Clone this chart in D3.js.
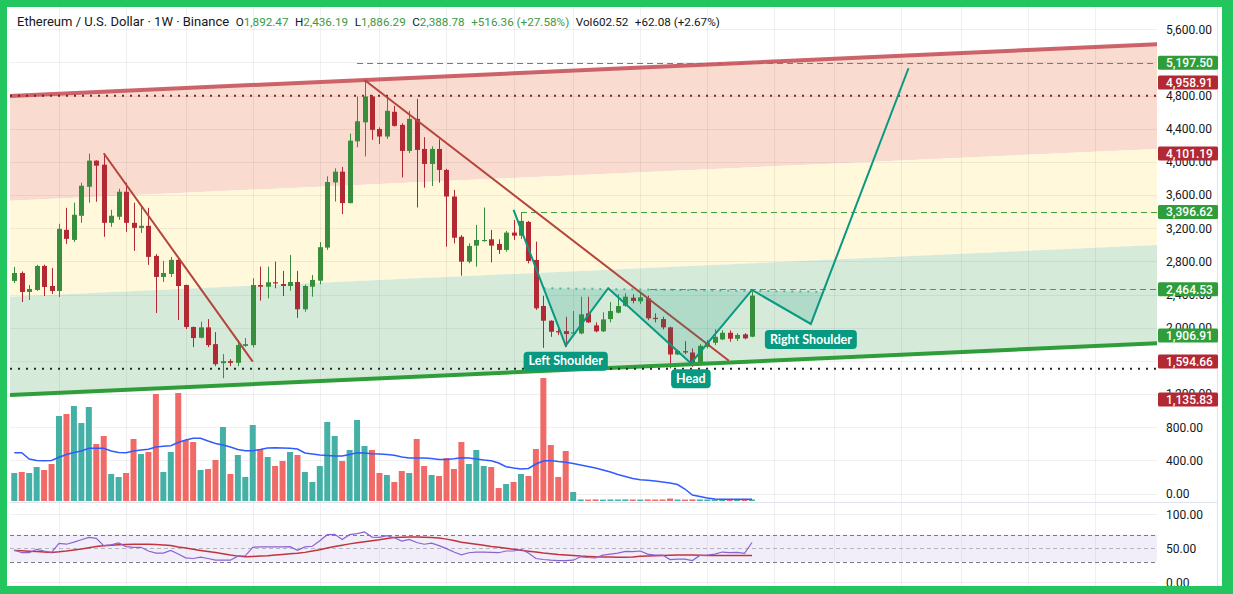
<!DOCTYPE html>
<html>
<head>
<meta charset="utf-8">
<script src="https://d3js.org/d3.v7.min.js"></script>
<style>
  body { margin: 0; background: #fff; }
  svg { display: block; font-family: Roboto, "Noto Sans", sans-serif; }
</style>
</head>
<body>
<div id="chart"></div>
<script>
// Weekly ETH/USD candles (index 0 = first visible week)
const opens = [2565,2661,2432,2456,2746,2504,2444,3181,3060,3351,
  3701,4016,3967,3266,3339,3641,3266,3205,3230,2867,
  2613,2649,2819,2516,2009,1880,2005,1803,1573,1598,
  1577,1782,1791,2516,2496,2549,2528,2504,2552,2223,
  2496,2568,2967,3753,3883,3504,4249,4478,4790,4397,
  4307,4605,4447,4133,4520,4157,3976,4157,3904,3583,
  3098,2797,2991,3049,3067,3011,2939,3148,3111,3277,
  2818,2263,2085,1960,1960,1932,1932,2174,2029,1957,
  2105,2182,2265,2363,2319,2355,2120,2105,2005,1678,
  1718,1702,1569,1770,1819,1860,1940,1868,1921,1892.47];
const highs = [2734,2680,2516,2760,2760,2722,3254,3447,3508,3750,
  4100,4020,4105,3423,3677,3750,3508,3459,3447,2890,
  2807,2855,2830,2520,2015,2073,2105,1948,1682,1622,
  1852,1876,2597,2738,2738,2798,2686,2879,2686,2520,
  2637,3033,3826,3923,3940,4342,4790,4989,4806,4417,
  4790,4677,4467,4617,4762,4299,4187,4274,3917,3663,
  3118,3019,3241,3450,3180,3067,3168,3301,3397,3289,
  3039,2387,2090,2013,2133,2202,2375,2375,2065,2186,
  2310,2404,2416,2404,2416,2387,2174,2133,2013,1738,
  1839,1751,1803,1852,1980,1969,1969,1934,1934,2436.19];
const lows = [2540,2311,2335,2445,2383,2408,2371,3012,3036,3266,
  3508,3520,3097,3218,3302,3157,2927,3145,2758,2178,
  2553,2613,2093,1984,1767,1872,1767,1537,1392,1537,
  1537,1770,1763,2327,2355,2476,2383,2447,2120,2194,
  2375,2524,2940,3523,3371,3500,4177,4067,4267,4217,
  4279,4427,3813,4107,3451,3690,3710,3750,2978,3018,
  2628,2777,2737,3039,2789,2890,2919,3059,3071,2777,
  2216,1758,1891,1912,1770,1930,1920,2060,1945,1950,
  2065,2174,2255,2295,2287,2093,2065,1980,1509,1670,
  1682,1529,1565,1751,1791,1851,1831,1841,1861,1886.29];
const closes = [2661,2432,2468,2746,2492,2444,3193,3072,3363,3713,
  4016,3955,3266,3351,3641,3266,3205,3230,2855,2613,
  2661,2819,2504,2009,1876,2005,1791,1561,1597,1577,
  1791,1803,2516,2496,2549,2537,2504,2552,2223,2504,
  2577,2972,3758,3883,3504,4257,4491,4790,4387,4307,
  4617,4435,4133,4520,4145,3976,4157,3904,3583,3086,
  2797,2987,3059,3059,2991,2939,3148,3111,3289,2806,
  2235,2085,1952,1945,1924,1944,2162,2065,1957,2101,
  2202,2262,2375,2323,2367,2114,2105,2005,1678,1722,
  1702,1561,1782,1819,1891,1940,1868,1913,1872.42,2388.78];

const volumes = [11200,11600,11200,13600,12400,14800,34000,34800,38000,31200,
  37600,22800,26000,10800,9600,11200,24800,18800,19600,42800,
  11600,19600,43200,24400,23600,12400,12800,16400,29600,10800,
  18400,9600,30400,20800,17600,14000,16000,19600,18400,11600,
  7600,14000,31600,26000,16000,20400,32400,22000,20400,11200,
  10400,7600,12000,11200,24800,14000,10400,10000,17200,12800,
  23600,14800,20400,14000,13600,5200,6800,7600,10800,10000,
  20800,49200,22400,9600,20000,3600,620,580,640,560,
  610,590,650,600,570,630,590,610,980,600,
  580,640,610,590,620,600,580,610,590,602.52];
const volumeMA = [19320,19320,16800,16200,16120,16200,17480,18600,19400,20000,
  21080,21080,21080,20000,19400,19320,20000,20400,20680,21600,
  21880,22120,23400,24400,25080,25080,24000,23000,22400,21600,
  20600,20120,20120,20600,21200,21320,21200,21080,20800,19200,
  18800,18400,18200,18000,18000,18600,19320,19200,18920,18800,
  18600,18320,17600,17200,17200,17200,17000,16600,16600,16920,
  17320,17200,16800,16400,16120,15200,13720,13200,12800,13000,
  14800,16000,16200,15800,15480,15000,14400,13800,13200,12400,
  11600,10600,9800,9000,8520,8280,8000,7600,7200,6600,
  4800,2400,1800,1200,800,720,720,720,720,720];

const rsi = [47.5,43.5,43.5,48.5,46,44,57.3,56,59,62.5,
  66,64.5,54,55,58,52.5,51.5,51.5,46,43,
  43,47,41.5,36,35,37,35,32.5,32.5,32.5,
  38.5,39,51.5,52,52,52,52,52.5,47,52,
  53,61,70,70.5,63,70,71.5,74,66.5,66,
  68.5,65.5,60.5,63,58.5,56,57.5,54,49.5,44.5,
  40.5,43.5,44.5,44.5,44,43.5,46,46,48.5,43,
  35,33.5,32.5,32,32,32.5,37.5,36.5,36,40,
  41.5,43,45.5,45,46,41.5,40,40,33.5,34,
  34,32,39.5,40,41.5,44.5,43.5,44,42.5,58.5];
const rsiMA = [46.8,46.3,45.8,45.3,44.6,44,44.8,46,47.5,49,
  50.8,52.5,53.8,54.5,55.1,55.5,56,56,56,55.5,
  54.8,54,52,50.5,48.5,46.8,45.2,43.7,42,40,
  38.5,37.6,38,38.5,39,40,41,42,42.8,44,
  46,48,50.5,52.7,54.5,56.5,58,59.7,61,62.5,
  64.5,65.8,66.2,66.5,66.5,66.3,65.8,65,63.5,61.5,
  59,57.3,55.8,54.5,52.8,51.5,50,48.5,47,45.7,
  44.5,43,42,41,40.3,39.3,38.5,38,37.5,37.3,
  37.1,37,37,37.3,38.3,38.6,39,39.5,39.8,40,
  40,40,39.8,39.5,39.5,39.5,39.5,39.5,39.5,39.5];

// Axis ticks and time grid (week indices where the vertical grid falls)
const priceTicks = d3.range(0, 5601, 400);
const hiddenTicks = [5200, 1600]; // fully covered by price tags
const rsiTicks = [0, 50, 100];
const gridWeeks = [6,15,23,32,41,49,58,67,75,84,93,102,110,119,127,136,145];

// Drawings (anchors in week index / price)
const channelWeeks = [-0.6, 153.5];
const channelTop = [4796, 5421];
const channelUpperBand = [3533, 4158];
const channelLowerBand = [2375, 3000];
const channelBottom = [1189, 1814];

const trendA = { weeks: [12, 32], prices: [4105, 1591] };
const trendB = { weeks: [47, 95.9], prices: [4989, 1603] };

const dashedLevels = [5197.5, 3396.62, 2464.53];
const dashedStarts = [46, 68, 85.3];
const dottedLevels = [4800, 1507];
const dottedColors = ["#8e1b1f", "#1d2b22"];

const hsWeeks = [67, 74, 79.7, 90.8, 99, 106.9, 120];
const hsPrices = [3421, 1784, 2477, 1572, 2456, 2046, 5130];
const neckWeeks = [71, 108.5];
const neckPrices = [2477, 2434];
const hsLabelText = ["Left Shoulder", "Head", "Right Shoulder"];
const hsLabelPoint = [1, 3, 5];

const tagValues = [5197.5, 4958.91, 4101.19, 3396.62, 2464.53, 1906.91, 1594.66, 1135.83];
const tagUp = [true, false, false, true, true, true, false, false];

const upColor = "#388e3c";
const downColor = "#b22833";
const teal = "#089981";

// Layout
const W = 1233, H = 594;
const pane = { left: 10, right: 1157, top: 7, bottom: 502 };
const rsiPane = { top: 503, bottom: 586 };

const svg = d3.select("#chart").append("svg")
  .attr("width", W)
  .attr("height", H);

svg.append("rect").attr("width", W).attr("height", H).attr("fill", "#fff");

// Scales
const x = d3.scaleLinear().domain([0, 99]).range([14.3, 752]);
const y = d3.scaleLinear().domain([0, 5600]).range([493.6, 29.3]);
const yVol = d3.scaleLinear().domain([0, 50000]).range([501, 376]);
const yRsi = d3.scaleLinear().domain([0, 100]).range([582.3, 514.3]);

// Clip paths
const defs = svg.append("defs");
defs.append("clipPath").attr("id", "clip-main").append("rect")
  .attr("x", pane.left).attr("y", pane.top)
  .attr("width", pane.right - pane.left).attr("height", pane.bottom - pane.top);
defs.append("clipPath").attr("id", "clip-rsi").append("rect")
  .attr("x", pane.left).attr("y", rsiPane.top)
  .attr("width", pane.right - pane.left).attr("height", rsiPane.bottom - rsiPane.top);

const main = svg.append("g").attr("clip-path", "url(#clip-main)");
const lower = svg.append("g").attr("clip-path", "url(#clip-rsi)");

// Channel bands
const band = (topArr, botArr) => d3.area()
  .x((d, i) => x(channelWeeks[i]))
  .y0((d, i) => y(botArr[i]))
  .y1((d, i) => y(topArr[i]));

main.append("path").datum(channelWeeks)
  .attr("d", band(channelTop, channelUpperBand))
  .attr("fill", "#f9dbcf");
main.append("path").datum(channelWeeks)
  .attr("d", band(channelUpperBand, channelLowerBand))
  .attr("fill", "#fff8da");
main.append("path").datum(channelWeeks)
  .attr("d", band(channelLowerBand, channelBottom))
  .attr("fill", "#d6eada");

// Grid
const gridColor = "rgba(42,46,57,0.07)";
main.append("g")
  .selectAll("line")
  .data(priceTicks)
  .join("line")
  .attr("x1", pane.left).attr("x2", pane.right)
  .attr("y1", (d) => Math.round(y(d)) + 0.5)
  .attr("y2", (d) => Math.round(y(d)) + 0.5)
  .attr("stroke", gridColor);
main.append("g")
  .selectAll("line")
  .data(gridWeeks)
  .join("line")
  .attr("x1", (d) => Math.round(x(d)) + 0.5)
  .attr("x2", (d) => Math.round(x(d)) + 0.5)
  .attr("y1", pane.top).attr("y2", pane.bottom)
  .attr("stroke", gridColor);

// Volume
const weeks = d3.range(opens.length);
const isUp = (i) => closes[i] >= opens[i];

main.append("g")
  .selectAll("rect")
  .data(weeks)
  .join("rect")
  .attr("x", (i) => x(i) - 3)
  .attr("width", 6)
  .attr("y", (i) => yVol(volumes[i]))
  .attr("height", (i) => Math.max(1, yVol(0) - yVol(volumes[i])))
  .attr("fill", (i) => (isUp(i) ? "#45b1a6" : "#f06b68"));

main.append("path")
  .datum(weeks)
  .attr("d", d3.line().x((i) => x(i)).y((i) => yVol(volumeMA[i])))
  .attr("fill", "none")
  .attr("stroke", "#2f5bff")
  .attr("stroke-width", 1.5);

// Candles
const candles = main.append("g")
  .selectAll("g")
  .data(weeks)
  .join("g")
  .attr("fill", (i) => (isUp(i) ? upColor : downColor))
  .attr("stroke", (i) => (isUp(i) ? upColor : downColor));

candles.append("line")
  .attr("x1", (i) => Math.round(x(i)) + 0.5)
  .attr("x2", (i) => Math.round(x(i)) + 0.5)
  .attr("y1", (i) => y(highs[i]))
  .attr("y2", (i) => y(lows[i]));

candles.append("rect")
  .attr("stroke", "none")
  .attr("x", (i) => Math.round(x(i)) - 2)
  .attr("width", 5)
  .attr("y", (i) => y(Math.max(opens[i], closes[i])))
  .attr("height", (i) => Math.max(1.2, Math.abs(y(opens[i]) - y(closes[i]))));

// Channel borders
const lineOf = (weeksArr, pricesArr) => d3.line()
  .x((d, i) => x(weeksArr[i]))
  .y((d, i) => y(pricesArr[i]))(weeksArr);

main.append("path")
  .attr("d", lineOf(channelWeeks, channelTop))
  .attr("fill", "none")
  .attr("stroke", "#c7535c")
  .attr("stroke-opacity", 0.9)
  .attr("stroke-width", 4);
main.append("path")
  .attr("d", lineOf(channelWeeks, channelBottom))
  .attr("fill", "none")
  .attr("stroke", "#2f9e3a")
  .attr("stroke-width", 4);

// Horizontal levels
main.append("g")
  .selectAll("line")
  .data(dottedLevels)
  .join("line")
  .attr("x1", pane.left).attr("x2", pane.right)
  .attr("y1", (d) => y(d)).attr("y2", (d) => y(d))
  .attr("stroke", (d, i) => dottedColors[i])
  .attr("stroke-width", 2)
  .attr("stroke-dasharray", "2,6");

main.append("g")
  .selectAll("line")
  .data(dashedLevels)
  .join("line")
  .attr("x1", (d, i) => x(dashedStarts[i])).attr("x2", pane.right)
  .attr("y1", (d) => Math.round(y(d)) + 0.5).attr("y2", (d) => Math.round(y(d)) + 0.5)
  .attr("stroke", "#3fa33f")
  .attr("stroke-width", 1.2)
  .attr("stroke-dasharray", "6,4");

// Descending trend lines
[trendA, trendB].forEach((t) => {
  main.append("path")
    .attr("d", lineOf(t.weeks, t.prices))
    .attr("stroke", "#b5443b")
    .attr("stroke-width", 2)
    .attr("fill", "none");
});

// Head and shoulders
const hsPts = hsWeeks.map((w, i) => [x(w), y(hsPrices[i])]);
const fillPts = [[x(neckWeeks[0]), y(neckPrices[0])]]
  .concat(hsPts.slice(1, 6))
  .concat([[x(neckWeeks[1]), y(neckPrices[1])]]);

main.append("path")
  .attr("d", d3.line()(fillPts) + "Z")
  .attr("fill", teal)
  .attr("fill-opacity", 0.18);

main.append("line")
  .attr("x1", x(neckWeeks[0])).attr("x2", x(neckWeeks[1]))
  .attr("y1", y(neckPrices[0])).attr("y2", y(neckPrices[1]))
  .attr("stroke", teal)
  .attr("stroke-opacity", 0.6)
  .attr("stroke-width", 2)
  .attr("stroke-dasharray", "2,6");

main.append("path")
  .attr("d", d3.line()(hsPts))
  .attr("fill", "none")
  .attr("stroke", teal)
  .attr("stroke-width", 2);

hsLabelText.forEach((txt, k) => {
  const p = hsLabelPoint[k];
  const cx = x(hsWeeks[p]);
  const cy = y(hsPrices[p]) + 15.5;
  const g = main.append("g");
  const box = g.append("rect").attr("fill", teal).attr("rx", 4);
  const t = g.append("text")
    .attr("x", cx)
    .attr("y", cy + 4.3)
    .attr("text-anchor", "middle")
    .attr("fill", "#fff")
    .style("font-family", "Lato, 'Noto Sans', sans-serif")
    .style("font-weight", "bold")
    .style("font-size", "12.5px")
    .text(txt);
  const w = t.node().getComputedTextLength() + 10;
  box.attr("x", cx - w / 2).attr("y", cy - 9.5).attr("width", w).attr("height", 19);
});

// RSI pane
lower.append("g")
  .selectAll("line")
  .data(gridWeeks)
  .join("line")
  .attr("x1", (d) => Math.round(x(d)) + 0.5)
  .attr("x2", (d) => Math.round(x(d)) + 0.5)
  .attr("y1", rsiPane.top).attr("y2", rsiPane.bottom)
  .attr("stroke", gridColor);
lower.append("g")
  .selectAll("line")
  .data([0, 100])
  .join("line")
  .attr("x1", pane.left).attr("x2", pane.right)
  .attr("y1", (d) => Math.round(yRsi(d)) + 0.5)
  .attr("y2", (d) => Math.round(yRsi(d)) + 0.5)
  .attr("stroke", gridColor);

lower.append("rect")
  .attr("x", pane.left).attr("width", pane.right - pane.left)
  .attr("y", yRsi(70)).attr("height", yRsi(30) - yRsi(70))
  .attr("fill", "rgba(126,87,194,0.1)");

lower.append("g")
  .selectAll("line")
  .data([70, 50, 30])
  .join("line")
  .attr("x1", pane.left).attr("x2", pane.right)
  .attr("y1", (d) => Math.round(yRsi(d)) + 0.5)
  .attr("y2", (d) => Math.round(yRsi(d)) + 0.5)
  .attr("stroke", "#787b86")
  .attr("stroke-opacity", (d) => (d === 50 ? 0.5 : 1))
  .attr("stroke-dasharray", "4,3");

lower.append("path")
  .datum(weeks)
  .attr("d", d3.line().x((i) => x(i)).y((i) => yRsi(rsiMA[i])))
  .attr("fill", "none")
  .attr("stroke", "#c0343e")
  .attr("stroke-width", 1.5);

lower.append("path")
  .datum(weeks)
  .attr("d", d3.line().x((i) => x(i)).y((i) => yRsi(rsi[i])))
  .attr("fill", "none")
  .attr("stroke", "#8a63d2")
  .attr("stroke-width", 1.2);

// Pane separator and axis border
svg.append("line")
  .attr("x1", pane.left).attr("x2", 1217)
  .attr("y1", 502.5).attr("y2", 502.5)
  .attr("stroke", "#e0e3eb");
svg.append("line")
  .attr("x1", 1217.5).attr("x2", 1217.5)
  .attr("y1", 7).attr("y2", 586)
  .attr("stroke", "#e0e3eb");

// Price axis
const fmt = d3.format(",.2f");
const priceAxis = svg.append("g")
  .attr("transform", `translate(${pane.right},0)`)
  .call(d3.axisRight(y)
    .tickValues(priceTicks.filter((d) => !hiddenTicks.includes(d)))
    .tickSize(0).tickPadding(9).tickFormat(fmt));
const rsiAxis = svg.append("g")
  .attr("transform", `translate(${pane.right},0)`)
  .call(d3.axisRight(yRsi).tickValues(rsiTicks).tickSize(0).tickPadding(9).tickFormat(fmt));
[priceAxis, rsiAxis].forEach((a) => {
  a.select(".domain").remove();
  a.selectAll("text")
    .attr("fill", "#131722")
    .style("font-family", "Roboto, sans-serif")
    .style("font-size", "12px");
});

// Price tags
const tags = svg.append("g")
  .selectAll("g")
  .data(tagValues)
  .join("g");
tags.append("rect")
  .attr("x", pane.right + 1)
  .attr("y", (d) => y(d) - 7)
  .attr("width", 60)
  .attr("height", 14)
  .attr("rx", 1.5)
  .attr("fill", (d, i) => (tagUp[i] ? "#2f9e3a" : "#b22833"));
tags.append("text")
  .attr("x", pane.right + 9)
  .attr("y", (d) => y(d) + 4.3)
  .attr("fill", "#fff")
  .style("font-family", "Roboto, sans-serif")
  .style("font-size", "12px")
  .style("font-weight", 500)
  .text((d) => fmt(d));

// Legend header: title then OHLC / change / volume groups, flowing left to right
const dark = "#131722";
const green = "#3a9a45";
const headerGroups = [
  [["O", dark], ["1,892.47", green]],
  [["H", dark], ["2,436.19", green]],
  [["L", dark], ["1,886.29", green]],
  [["C", dark], ["2,388.78", green]],
  [["+516.36 (+27.58%)", green]],
  [["Vol", dark], ["602.52", dark]],
  [["+62.08 (+2.67%)", dark]],
];
const header = svg.append("text")
  .attr("x", 17)
  .attr("y", 25.5)
  .style("font-family", "Roboto, sans-serif");
header.append("tspan")
  .attr("fill", dark)
  .style("font-size", "13px")
  .text("Ethereum / U.S. Dollar · 1W · Binance");
headerGroups.forEach((grp) => {
  grp.forEach(([s, c], j) => {
    header.append("tspan")
      .attr("dx", j === 0 ? 6.5 : 0)
      .attr("fill", c)
      .style("font-size", "11.7px")
      .text(s);
  });
});

// Green frame
const frame = "#22c55e";
svg.append("rect").attr("x", 0).attr("y", 0).attr("width", W).attr("height", 7).attr("fill", frame);
svg.append("rect").attr("x", 0).attr("y", 586).attr("width", W).attr("height", 8).attr("fill", frame);
svg.append("rect").attr("x", 0).attr("y", 0).attr("width", 7).attr("height", H).attr("fill", frame);
svg.append("rect").attr("x", 1222).attr("y", 0).attr("width", 11).attr("height", H).attr("fill", frame);
</script>
</body>
</html>
